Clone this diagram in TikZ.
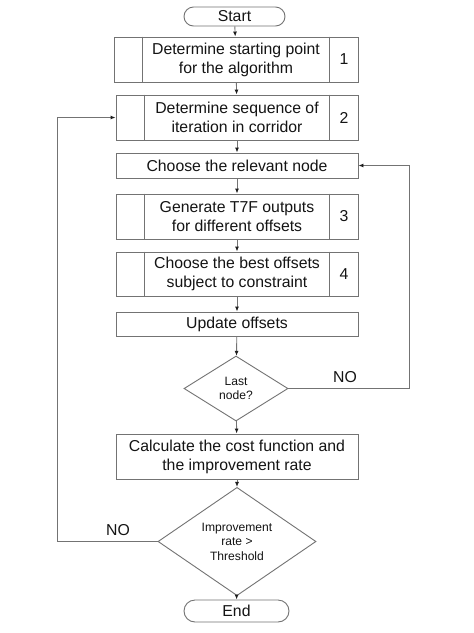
\documentclass[tikz,border=0pt]{standalone}
\usepackage{fontspec}
\setmainfont{Liberation Sans}
\usetikzlibrary{shapes.geometric,arrows.meta}
\definecolor{linegray}{RGB}{115,115,115}
\definecolor{txt}{RGB}{20,20,20}
\definecolor{tipc}{RGB}{30,30,30}
\tikzset{
  base/.style={draw=linegray, line width=0.9pt, text=txt, inner sep=0pt, align=center,
    font=\fontsize{15.8}{19}\selectfont},
  term/.style={base, rounded corners=9.5pt, minimum width=101pt},
  box/.style={base, minimum width=242pt},
  dec/.style={base, diamond, font=\fontsize{12.1}{14.6}\selectfont},
  lbl/.style={text=txt, inner sep=0pt, font=\fontsize{15.8}{19}\selectfont},
  arr/.style={draw=linegray, line width=0.9pt, -{Latex[length=5pt,width=4pt,color=tipc]}},
  divider/.style={draw=linegray, line width=0.9pt}
}
\begin{document}
\begin{tikzpicture}[x=1pt,y=-1pt]
\useasboundingbox[fill=white] (0,0) rectangle (474,633);
\node[term, minimum height=19pt] (start) at (234.5,16.5) {Start};
\node[box, minimum width=244pt, minimum height=45pt] (b1) at (236,59.5) {Determine starting point\\for the algorithm};
\node[box, minimum height=45pt] (b2) at (237,117.5) {Determine sequence of\\iteration in corridor};
\node[box, minimum height=25pt] (choose) at (237,165.5) {Choose the relevant node};
\node[box, minimum height=45pt] (b3) at (237,216.5) {Generate T7F outputs\\for different offsets};
\node[box, minimum height=44pt] (b4) at (237,274) {Choose the best offsets\\subject to constraint};
\node[box, minimum height=24pt] (upd) at (237,324) {Update offsets};
\node[dec, minimum width=104pt, minimum height=65pt] (d1) at (236,388.5) {Last\\node?};
\node[box, minimum height=45pt] (calc) at (237,456.5) {Calculate the cost function and\\the improvement rate};
\node[dec, minimum width=158pt, minimum height=93pt] (d2) at (237,541.5) {Improvement\\rate \textgreater\\Threshold};
\node[term, minimum width=105pt, minimum height=22pt, rounded corners=11pt] (end) at (236.5,611) {End};
% dividers
\foreach \b in {b1,b2,b3,b4}{
  \draw[divider] ([xshift=29pt]\b.north west) -- ([xshift=29pt]\b.south west);
  \draw[divider] ([xshift=-29pt]\b.north east) -- ([xshift=-29pt]\b.south east);
}
\node[lbl] (n1) at ([xshift=-14.5pt]b1.east) {1};
\node[lbl] (n2) at ([xshift=-14.5pt]b2.east) {2};
\node[lbl] (n3) at ([xshift=-14.5pt]b3.east) {3};
\node[lbl] (n4) at ([xshift=-14.5pt]b4.east) {4};
% connectors
\draw[arr] (start) -- (b1);
\draw[arr] (b1) -- (b2);
\draw[arr] (b2) -- (choose);
\draw[arr] (choose) -- (b3);
\draw[arr] (b3) -- (b4);
\draw[arr] (b4) -- (upd);
\draw[arr] (upd) -- (d1);
\draw[arr] (d1) -- (calc);
\draw[arr] (calc) -- (d2);
\draw[arr] (d2) -- (end);
\coordinate (cr) at (409,165.5);
\coordinate (cl) at (57,117.5);
\draw[arr] (d1.east) -| (cr) -- (choose.east);
\draw[arr] (d2.west) -| (cl) -- (b2.west);
\node[lbl] (no1) at (345,377) {NO};
\node[lbl] (no2) at (118,530) {NO};
\end{tikzpicture}
\end{document}
